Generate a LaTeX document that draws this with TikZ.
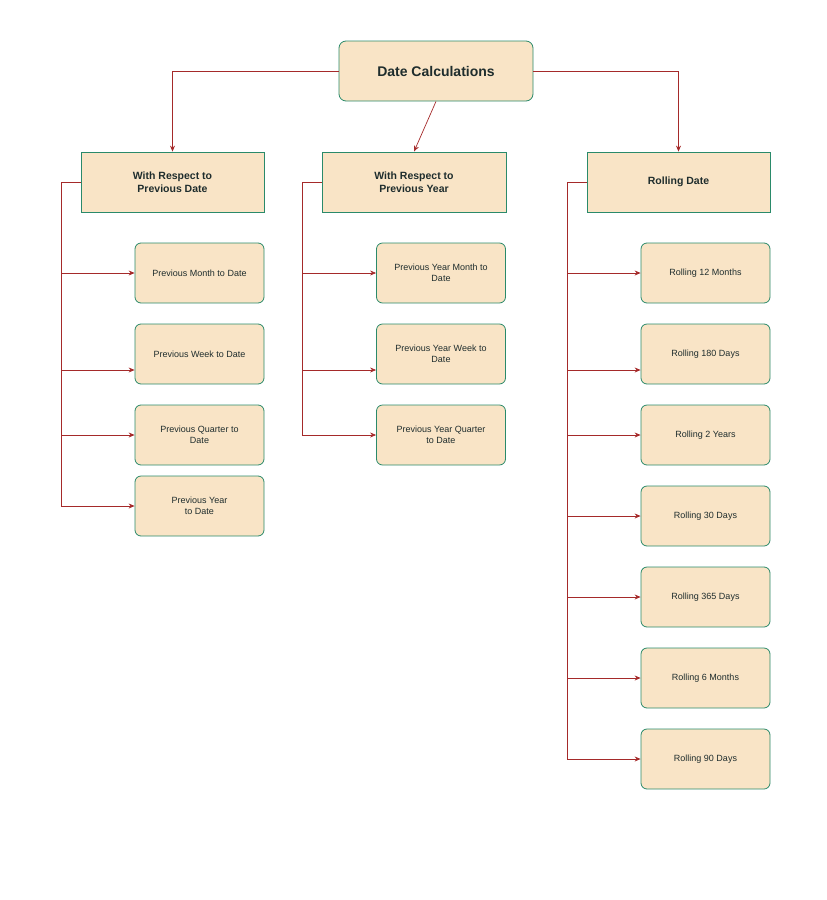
\documentclass[tikz,border=0pt]{standalone}
\usepackage{fontspec}
\setmainfont{Liberation Sans}
\usetikzlibrary{arrows.meta}
\definecolor{fillc}{HTML}{F9E4C6}
\definecolor{edgec}{HTML}{2A8A6A}
\definecolor{arr}{HTML}{A52A2A}
\definecolor{txt}{HTML}{1F2D2D}
\begin{document}
\begin{tikzpicture}[x=1pt,y=-1pt,
  base/.style={draw=edgec,fill=fillc,text=txt,align=center,inner sep=1pt,line width=0.8pt},
  root/.style={base,rounded corners=7pt,minimum width=194pt,minimum height=60pt,font=\bfseries\fontsize{14}{16}\selectfont},
  lvl/.style={base,minimum width=183pt,minimum height=60pt,font=\bfseries\fontsize{10.5}{13}\selectfont},
  lvlm/.style={lvl,minimum width=184pt},
  leaf/.style={base,rounded corners=6pt,minimum width=129pt,minimum height=60pt,font=\fontsize{9}{11.5}\selectfont},
  con/.style={draw=arr,line width=0.7pt,-{Stealth[length=6pt,width=5pt]}},
  trunk/.style={draw=arr,line width=0.7pt}]
\useasboundingbox (0,0) rectangle (827,900);
\node[root] (r) at (436,71) {Date Calculations};
\node[lvl] (a) at (172.5,182) {With Respect to\\Previous Date};
\node[lvlm] (b) at (414,182) {With Respect to\\Previous Year};
\node[lvl] (c) at (678.5,182) {Rolling Date};
\draw[con] (r.west) -| (a.north);
\draw[con] (r.south) -- (b.north);
\draw[con] (r.east) -| (c.north);
% left
\node[leaf] (a1) at (199.5,273) {Previous Month to Date};
\node[leaf] (a2) at (199.5,354) {Previous Week to Date};
\node[leaf] (a3) at (199.5,435) {Previous Quarter to\\Date};
\node[leaf] (a4) at (199.5,506) {Previous Year\\to Date};
\coordinate (at) at (61,182);
\draw[trunk] (a.west) -- (at) -- (61,506);
\draw[con] (61,273) -- (a1.west);
\draw[con] (61,370) -- (a2.west |- 0,370);
\draw[con] (61,435) -- (a3.west);
\draw[con] (61,506) -- (a4.west);
% middle
\node[leaf] (b1) at (441,273) {Previous Year Month to\\Date};
\node[leaf] (b2) at (441,354) {Previous Year Week to\\Date};
\node[leaf] (b3) at (441,435) {Previous Year Quarter\\to Date};
\draw[trunk] (b.west) -- (302,182) -- (302,435);
\draw[con] (302,273) -- (b1.west);
\draw[con] (302,370) -- (b2.west |- 0,370);
\draw[con] (302,435) -- (b3.west);
% right
\node[leaf] (c1) at (705.5,273) {Rolling 12 Months};
\node[leaf] (c2) at (705.5,354) {Rolling 180 Days};
\node[leaf] (c3) at (705.5,435) {Rolling 2 Years};
\node[leaf] (c4) at (705.5,516) {Rolling 30 Days};
\node[leaf] (c5) at (705.5,597) {Rolling 365 Days};
\node[leaf] (c6) at (705.5,678) {Rolling 6 Months};
\node[leaf] (c7) at (705.5,759) {Rolling 90 Days};
\draw[trunk] (c.west) -- (567,182) -- (567,759);
\draw[con] (567,273) -- (c1.west);
\draw[con] (567,370) -- (c2.west |- 0,370);
\draw[con] (567,435) -- (c3.west);
\draw[con] (567,516) -- (c4.west);
\draw[con] (567,597) -- (c5.west);
\draw[con] (567,678) -- (c6.west);
\draw[con] (567,759) -- (c7.west);
\end{tikzpicture}
\end{document}
